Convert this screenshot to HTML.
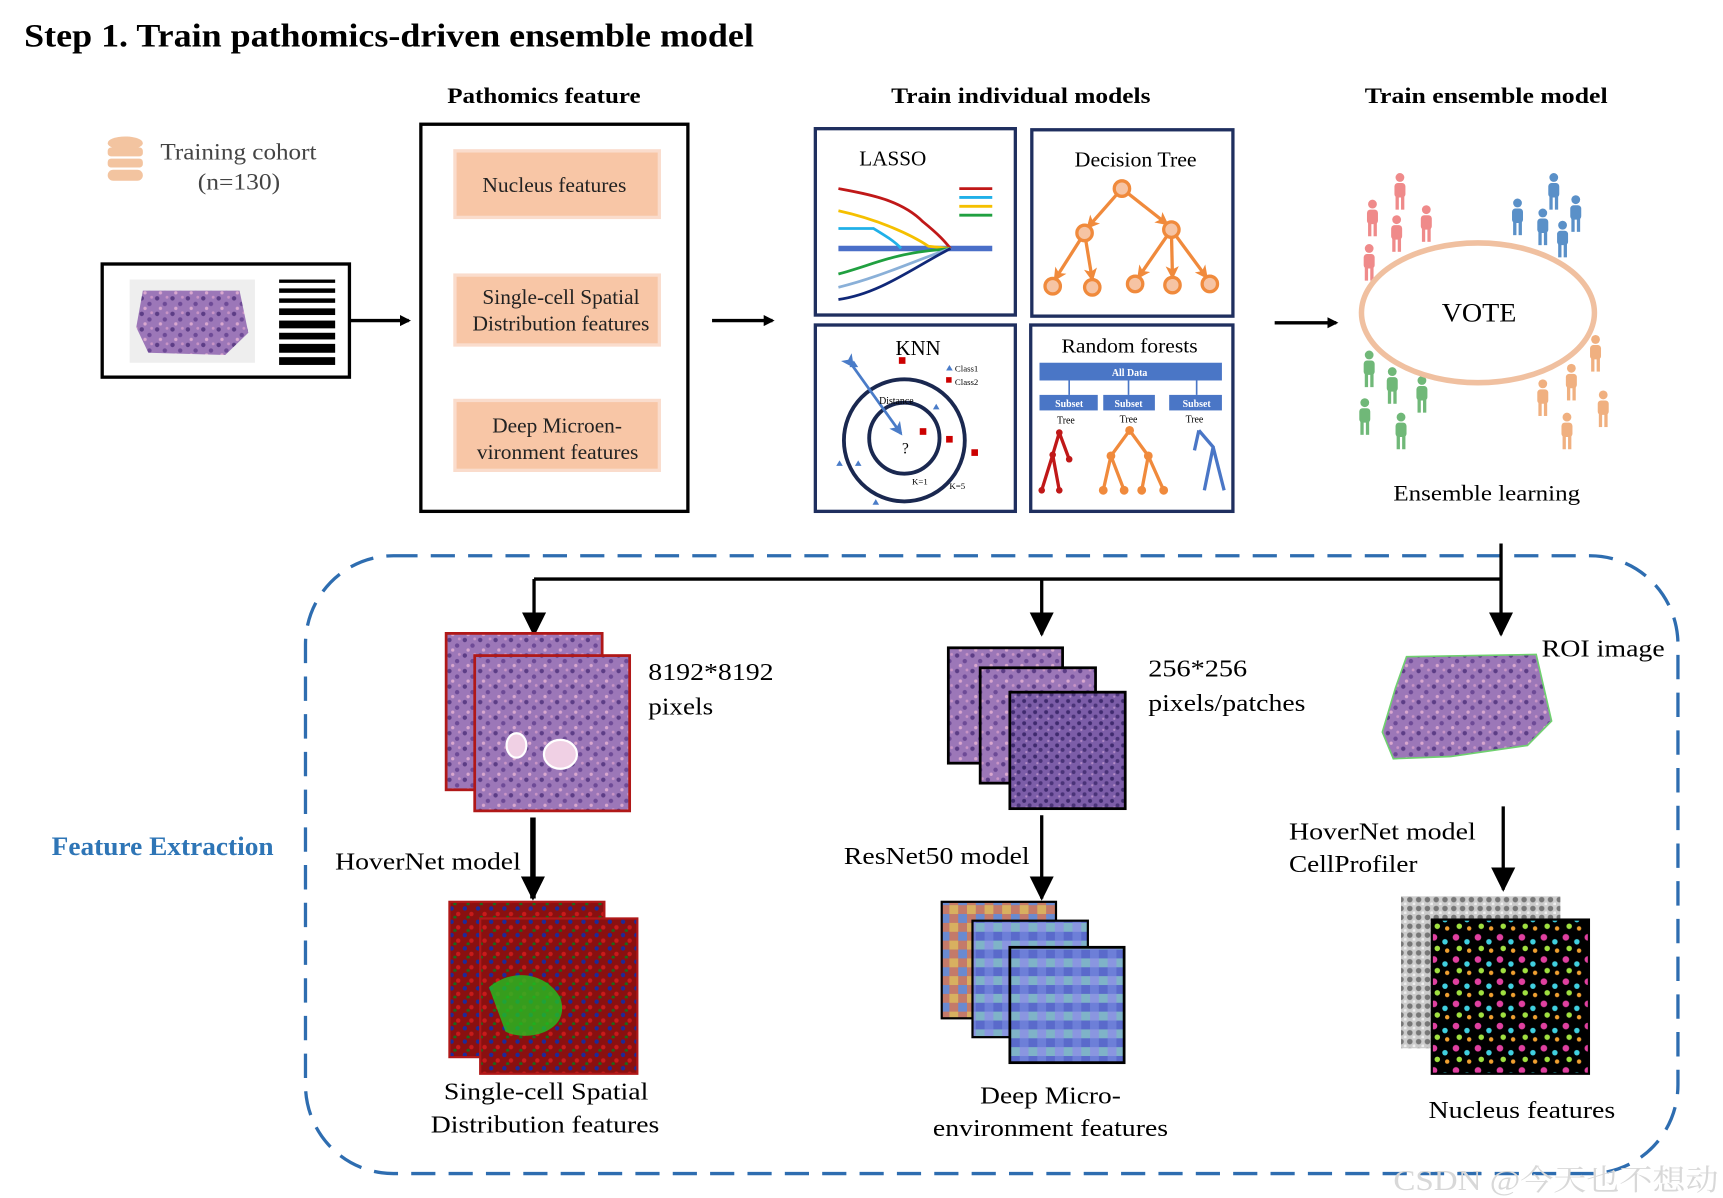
<!DOCTYPE html>
<html><head><meta charset="utf-8"><style>
html,body{margin:0;padding:0;background:#fff;}
svg{display:block;}
text{font-family:"Liberation Serif","Noto Serif CJK SC",serif;}
</style></head><body>
<svg width="1723" height="1198" viewBox="0 0 1568 1080" preserveAspectRatio="none" xmlns="http://www.w3.org/2000/svg">
<defs>
<marker id="ah" markerWidth="10" markerHeight="10" refX="8" refY="5" orient="auto" markerUnits="userSpaceOnUse"><path d="M0,0 L10,5 L0,10 Z" fill="#000"/></marker>
<marker id="ahb" markerWidth="22" markerHeight="22" refX="20" refY="11" orient="auto" markerUnits="userSpaceOnUse"><path d="M0,0 L22,11 L0,22 Z" fill="#000"/></marker>
<marker id="oa" markerWidth="12" markerHeight="12" refX="10" refY="6" orient="auto" markerUnits="userSpaceOnUse"><path d="M0,0 L12,6 L0,12 L3,6 Z" fill="#f08a3c"/></marker>
<marker id="ba" markerWidth="12" markerHeight="12" refX="10" refY="6" orient="auto" markerUnits="userSpaceOnUse"><path d="M0,0 L12,6 L0,12 L3,6 Z" fill="#4a7cc8"/></marker>
<g id="p"><circle cx="0" cy="-12" r="4"/><rect x="-5" y="-7" width="10" height="13" rx="3"/><rect x="-4" y="5" width="3" height="12"/><rect x="1" y="5" width="3" height="12"/></g>
<pattern id="he" width="14" height="14" patternUnits="userSpaceOnUse">
<rect width="14" height="14" fill="#9c77b8"/><circle cx="3" cy="3" r="2" fill="#5c3d86"/><circle cx="10" cy="8" r="2" fill="#6d4a96"/><circle cx="6" cy="12" r="1.5" fill="#d9a8cf"/><circle cx="12" cy="2" r="1.3" fill="#c995c6"/></pattern>
<pattern id="he2" width="10" height="10" patternUnits="userSpaceOnUse">
<rect width="10" height="10" fill="#7c5da8"/><circle cx="2" cy="2" r="1.8" fill="#3f2a6e"/><circle cx="7" cy="6" r="1.8" fill="#4a3378"/><circle cx="4" cy="8" r="1" fill="#b48cc6"/></pattern>
<pattern id="rg" width="12" height="12" patternUnits="userSpaceOnUse">
<rect width="12" height="12" fill="#8a1010"/><circle cx="3" cy="3" r="2" fill="#1c2a9a"/><circle cx="9" cy="8" r="2" fill="#c81a1a"/><circle cx="6" cy="11" r="1.5" fill="#1a6a1a"/></pattern>
<pattern id="hm" width="16" height="16" patternUnits="userSpaceOnUse">
<rect width="16" height="16" fill="#6d7fd8"/><rect width="8" height="8" fill="#8a96e0"/><rect x="8" y="8" width="8" height="8" fill="#5a6acb"/><rect x="8" y="0" width="8" height="8" fill="#7fb3c8"/></pattern>
<pattern id="hm2" width="16" height="16" patternUnits="userSpaceOnUse">
<rect width="16" height="16" fill="#c47a6a"/><rect width="8" height="8" fill="#d8b060"/><rect x="8" y="8" width="8" height="8" fill="#6a8ad0"/></pattern>
<pattern id="nuc" width="20" height="20" patternUnits="userSpaceOnUse">
<rect width="20" height="20" fill="#000"/><circle cx="5" cy="5" r="3" fill="#e040a0"/><circle cx="15" cy="9" r="2.5" fill="#40d0e0"/><circle cx="8" cy="15" r="2.5" fill="#a0e040"/><circle cx="17" cy="17" r="2" fill="#f0a030"/></pattern>
<pattern id="gry" width="8" height="8" patternUnits="userSpaceOnUse"><rect width="8" height="8" fill="#ccc"/><circle cx="3" cy="3" r="2.5" fill="#777"/><circle cx="7" cy="7" r="1.5" fill="#eee"/></pattern>
</defs>

<text x="22" y="42" font-size="30" font-weight="bold" textLength="664" lengthAdjust="spacingAndGlyphs">Step 1. Train pathomics-driven ensemble model</text>
<text x="407" y="93" font-size="20" font-weight="bold" textLength="176" lengthAdjust="spacingAndGlyphs">Pathomics feature</text>
<text x="811" y="93" font-size="20" font-weight="bold" textLength="236" lengthAdjust="spacingAndGlyphs">Train individual models</text>
<text x="1242" y="93" font-size="20" font-weight="bold" textLength="221" lengthAdjust="spacingAndGlyphs">Train  ensemble model</text>

<g fill="#f3c4a0">
<ellipse cx="114" cy="129" rx="16" ry="6"/><rect x="98" y="133" width="32" height="8" rx="3"/><rect x="98" y="143" width="32" height="8" rx="3"/><rect x="98" y="153" width="32" height="10" rx="5"/></g>
<text x="146" y="144" font-size="21" fill="#444" textLength="142" lengthAdjust="spacingAndGlyphs">Training cohort</text>
<text x="180" y="171" font-size="21" fill="#444" textLength="75" lengthAdjust="spacingAndGlyphs">(n=130)</text>

<rect x="93" y="238" width="225" height="102" fill="#fff" stroke="#000" stroke-width="3"/>
<rect x="118" y="252" width="114" height="75" fill="#eee"/>
<path d="M130,262 L218,262 L226,300 L205,320 L135,318 L124,295 Z" fill="url(#he)"/>
<g fill="#000"><rect x="254" y="252" width="51" height="3"/><rect x="254" y="260" width="51" height="4"/><rect x="254" y="269" width="51" height="4"/><rect x="254" y="278" width="51" height="6"/><rect x="254" y="289" width="51" height="7"/><rect x="254" y="300" width="51" height="6"/><rect x="254" y="310" width="51" height="8"/><rect x="254" y="322" width="51" height="7"/></g>
<line x1="319" y1="289" x2="372" y2="289" stroke="#000" stroke-width="3" marker-end="url(#ah)"/>

<rect x="383" y="112" width="243" height="349" fill="#fff" stroke="#000" stroke-width="3"/>
<g fill="#f8c6a6" stroke="#fadccc" stroke-width="3">
<rect x="414" y="136" width="186" height="60"/><rect x="414" y="248" width="186" height="63"/><rect x="414" y="361" width="186" height="63"/></g>
<g font-size="19" fill="#222" lengthAdjust="spacingAndGlyphs">
<text x="439" y="173" textLength="131" lengthAdjust="spacingAndGlyphs">Nucleus features</text>
<text x="439" y="274" textLength="143" lengthAdjust="spacingAndGlyphs">Single-cell Spatial</text><text x="430" y="298" textLength="161" lengthAdjust="spacingAndGlyphs">Distribution features</text>
<text x="448" y="390" textLength="118" lengthAdjust="spacingAndGlyphs">Deep Microen-</text><text x="434" y="414" textLength="147" lengthAdjust="spacingAndGlyphs">vironment features</text></g>
<line x1="648" y1="289" x2="703" y2="289" stroke="#000" stroke-width="3" marker-end="url(#ah)"/>

<g fill="#fff" stroke="#1f2f5f" stroke-width="3">
<rect x="742" y="116" width="182" height="168"/><rect x="939" y="117" width="183" height="168"/>
<rect x="742" y="293" width="182" height="168"/><rect x="938" y="293" width="184" height="168"/></g>
<text x="782" y="149" font-size="19" textLength="61" lengthAdjust="spacingAndGlyphs">LASSO</text>
<g fill="none" stroke-width="2.5">
<line x1="763" y1="224" x2="903" y2="224" stroke="#4a6fc8" stroke-width="5"/>
<path d="M763,170 C790,175 820,180 840,200 C855,212 860,218 865,224" stroke="#c01818"/>
<path d="M763,190 C800,198 830,212 845,222 L865,224" stroke="#f5c000"/>
<path d="M763,206 L795,206 C805,212 815,218 820,224" stroke="#20b0e8"/>
<path d="M763,247 C790,240 810,230 845,226 L865,224" stroke="#20a040"/>
<path d="M763,259 C800,250 830,236 865,224" stroke="#8ab0d8"/>
<path d="M763,270 C800,265 830,242 865,224" stroke="#102878"/>
<line x1="873" y1="170" x2="903" y2="170" stroke="#c01818"/><line x1="873" y1="178" x2="903" y2="178" stroke="#20b0e8"/><line x1="873" y1="186" x2="903" y2="186" stroke="#f5c000"/><line x1="873" y1="194" x2="903" y2="194" stroke="#20a040"/></g>

<text x="978" y="150" font-size="19" textLength="111" lengthAdjust="spacingAndGlyphs">Decision Tree</text>
<g stroke="#f08a3c" stroke-width="3" fill="none">
<line x1="1021" y1="170" x2="990" y2="205" marker-end="url(#oa)"/><line x1="1021" y1="170" x2="1062" y2="202" marker-end="url(#oa)"/>
<line x1="987" y1="210" x2="960" y2="252" marker-end="url(#oa)"/><line x1="987" y1="210" x2="994" y2="252" marker-end="url(#oa)"/>
<line x1="1066" y1="207" x2="1036" y2="250" marker-end="url(#oa)"/><line x1="1066" y1="207" x2="1067" y2="250" marker-end="url(#oa)"/><line x1="1066" y1="207" x2="1098" y2="250" marker-end="url(#oa)"/></g>
<g fill="#f6c4a4" stroke="#f08a3c" stroke-width="3">
<circle cx="1021" cy="170" r="7"/><circle cx="987" cy="210" r="7"/><circle cx="1066" cy="207" r="7"/>
<circle cx="958" cy="258" r="7"/><circle cx="994" cy="259" r="7"/><circle cx="1033" cy="256" r="7"/><circle cx="1067" cy="257" r="7"/><circle cx="1101" cy="256" r="7"/></g>

<text x="815" y="320" font-size="19" textLength="41" lengthAdjust="spacingAndGlyphs">KNN</text>
<g fill="none" stroke="#1a2850" stroke-width="3.5"><circle cx="823" cy="397" r="55"/><circle cx="823" cy="395" r="32"/></g>
<line x1="776" y1="330" x2="820" y2="391" stroke="#4a7cc8" stroke-width="2.5" marker-end="url(#ba)" marker-start="url(#ba)"/>
<text x="800" y="364" font-size="9">Distance</text>
<text x="824" y="409" font-size="14" text-anchor="middle">?</text>
<text x="830" y="437" font-size="8">K=1</text><text x="864" y="441" font-size="8">K=5</text>
<g fill="#c00"><rect x="818" y="322" width="6" height="6"/><rect x="837" y="386" width="6" height="6"/><rect x="861" y="393" width="6" height="6"/><rect x="884" y="405" width="6" height="6"/><rect x="861" y="340" width="5" height="5"/></g>
<g fill="#4a7cc8"><path d="M773,331 l4,-6 l4,6z"/><path d="M849,369 l3,-5 l3,5z"/><path d="M761,420 l3,-5 l3,5z"/><path d="M778,420 l3,-5 l3,5z"/><path d="M794,455 l3,-5 l3,5z"/><path d="M861,334 l3,-5 l3,5z"/></g>
<text x="869" y="335" font-size="8">Class1</text><text x="869" y="347" font-size="8">Class2</text>

<text x="966" y="318" font-size="18" textLength="124" lengthAdjust="spacingAndGlyphs">Random forests</text>
<rect x="946" y="327" width="166" height="16" fill="#4a76c6"/>
<text x="1028" y="339" font-size="9" fill="#fff" font-weight="bold" text-anchor="middle">All Data</text>
<g stroke="#4a76c6" stroke-width="1.5"><line x1="973" y1="343" x2="973" y2="356"/><line x1="1027" y1="343" x2="1027" y2="356"/><line x1="1089" y1="343" x2="1089" y2="356"/></g>
<g fill="#4a76c6"><rect x="946" y="356" width="53" height="14"/><rect x="1004" y="356" width="47" height="14"/><rect x="1064" y="356" width="48" height="14"/></g>
<g font-size="9" fill="#fff" font-weight="bold" text-anchor="middle"><text x="973" y="367">Subset</text><text x="1027" y="367">Subset</text><text x="1089" y="367">Subset</text></g>
<g font-size="9" text-anchor="middle"><text x="970" y="382">Tree</text><text x="1027" y="381">Tree</text><text x="1087" y="381">Tree</text></g>
<g stroke="#c01818" stroke-width="3" fill="none"><path d="M964,390 L958,410 L948,442 M958,410 L964,442 M964,390 L973,414"/></g>
<g fill="#c01818"><circle cx="964" cy="390" r="3"/><circle cx="958" cy="410" r="3"/><circle cx="948" cy="442" r="3"/><circle cx="964" cy="442" r="3"/><circle cx="973" cy="414" r="3"/></g>
<g stroke="#f08a3c" stroke-width="3" fill="none"><path d="M1028,388 L1011,411 L1004,442 M1011,411 L1023,442 M1028,388 L1045,411 L1039,442 M1045,411 L1059,442"/></g>
<g fill="#f08a3c"><circle cx="1028" cy="388" r="4"/><circle cx="1011" cy="411" r="4"/><circle cx="1045" cy="411" r="4"/><circle cx="1004" cy="442" r="4"/><circle cx="1023" cy="442" r="4"/><circle cx="1039" cy="442" r="4"/><circle cx="1059" cy="442" r="4"/></g>
<g stroke="#4a76c6" stroke-width="3" fill="none"><path d="M1091,388 L1104,403 L1096,442 M1104,403 L1114,442 M1091,388 L1087,406"/></g>

<line x1="1160" y1="291" x2="1216" y2="291" stroke="#000" stroke-width="3" marker-end="url(#ah)"/>

<g fill="#ef8a8a"><use href="#p" x="1274" y="172"/><use href="#p" x="1249" y="196"/><use href="#p" x="1298" y="201"/><use href="#p" x="1271" y="210"/><use href="#p" x="1246" y="236"/></g>
<g fill="#5a90c8"><use href="#p" x="1414" y="172"/><use href="#p" x="1381" y="195"/><use href="#p" x="1434" y="192"/><use href="#p" x="1404" y="204"/><use href="#p" x="1422" y="215"/></g>
<g fill="#70b878"><use href="#p" x="1246" y="332"/><use href="#p" x="1267" y="347"/><use href="#p" x="1294" y="355"/><use href="#p" x="1242" y="375"/><use href="#p" x="1275" y="388"/></g>
<g fill="#f0b080"><use href="#p" x="1452" y="318"/><use href="#p" x="1430" y="344"/><use href="#p" x="1404" y="358"/><use href="#p" x="1459" y="368"/><use href="#p" x="1426" y="388"/></g>
<ellipse cx="1345" cy="282" rx="106" ry="63" fill="#fff" stroke="#f0c0a0" stroke-width="5"/>
<text x="1312" y="290" font-size="24" textLength="68" lengthAdjust="spacingAndGlyphs">VOTE</text>
<text x="1268" y="451" font-size="20" textLength="170" lengthAdjust="spacingAndGlyphs">Ensemble learning</text>

<rect x="278" y="501" width="1249" height="557" rx="80" ry="80" fill="none" stroke="#2e6db0" stroke-width="3" stroke-dasharray="22,12"/>
<g stroke="#000" stroke-width="3" fill="none">
<line x1="1366" y1="490" x2="1366" y2="572" marker-end="url(#ahb)"/>
<line x1="486" y1="522" x2="1366" y2="522"/>
<line x1="486" y1="522" x2="486" y2="572" marker-end="url(#ahb)"/>
<line x1="948" y1="522" x2="948" y2="572" marker-end="url(#ahb)"/></g>
<text x="47" y="771" font-size="24" font-weight="bold" fill="#2e75b6" textLength="202" lengthAdjust="spacingAndGlyphs">Feature Extraction</text>

<rect x="406" y="571" width="142" height="141" fill="url(#he)" stroke="#b01818" stroke-width="2.5"/>
<rect x="432" y="591" width="141" height="140" fill="url(#he)" stroke="#b01818" stroke-width="2.5"/>
<ellipse cx="510" cy="680" rx="15" ry="13" fill="#f0d0e4" stroke="#fff" stroke-width="2"/>
<ellipse cx="470" cy="672" rx="9" ry="11" fill="#f0d0e4" stroke="#fff" stroke-width="2"/>
<text x="590" y="613" font-size="22" textLength="114" lengthAdjust="spacingAndGlyphs">8192*8192</text><text x="590" y="644" font-size="22" textLength="59" lengthAdjust="spacingAndGlyphs">pixels</text>
<line x1="485" y1="737" x2="485" y2="810" stroke="#000" stroke-width="5" marker-end="url(#ahb)"/>
<text x="305" y="784" font-size="22" textLength="169" lengthAdjust="spacingAndGlyphs">HoverNet model</text>
<rect x="409" y="813" width="141" height="140" fill="url(#rg)" stroke="#b01818" stroke-width="2"/>
<rect x="437" y="828" width="143" height="140" fill="url(#rg)" stroke="#b01818" stroke-width="2"/>
<path d="M445,890 C470,870 500,880 510,900 C520,930 480,940 460,930 Z" fill="#20c020" opacity="0.8"/>
<text x="404" y="991" font-size="22" textLength="186" lengthAdjust="spacingAndGlyphs">Single-cell Spatial</text>
<text x="392" y="1021" font-size="22" textLength="208" lengthAdjust="spacingAndGlyphs">Distribution features</text>

<rect x="863" y="584" width="104" height="104" fill="url(#he)" stroke="#000" stroke-width="2.5"/>
<rect x="892" y="602" width="105" height="104" fill="url(#he)" stroke="#000" stroke-width="2.5"/>
<rect x="919" y="624" width="105" height="105" fill="url(#he2)" stroke="#000" stroke-width="2.5"/>
<text x="1045" y="610" font-size="22" textLength="90" lengthAdjust="spacingAndGlyphs">256*256</text><text x="1045" y="641" font-size="22" textLength="143" lengthAdjust="spacingAndGlyphs">pixels/patches</text>
<line x1="948" y1="735" x2="948" y2="810" stroke="#000" stroke-width="3" marker-end="url(#ahb)"/>
<text x="768" y="779" font-size="22" textLength="169" lengthAdjust="spacingAndGlyphs">ResNet50 model</text>
<rect x="857" y="813" width="104" height="105" fill="url(#hm2)" stroke="#000" stroke-width="2"/>
<rect x="885" y="830" width="105" height="105" fill="url(#hm)" stroke="#000" stroke-width="2"/>
<rect x="919" y="854" width="104" height="104" fill="url(#hm)" stroke="#000" stroke-width="2.5"/>
<text x="892" y="995" font-size="22" textLength="128" lengthAdjust="spacingAndGlyphs">Deep Micro-</text>
<text x="849" y="1024" font-size="22" textLength="214" lengthAdjust="spacingAndGlyphs">environment features</text>

<path d="M1280,592 L1398,590 L1412,650 L1390,672 L1320,682 L1268,684 L1258,660 L1270,620 Z" fill="url(#he)" stroke="#70d070" stroke-width="1.5"/>
<text x="1403" y="592" font-size="22" textLength="112" lengthAdjust="spacingAndGlyphs">ROI image</text>
<text x="1173" y="757" font-size="22" textLength="170" lengthAdjust="spacingAndGlyphs">HoverNet model</text>
<text x="1173" y="786" font-size="22" textLength="117" lengthAdjust="spacingAndGlyphs">CellProfiler</text>
<line x1="1368" y1="727" x2="1368" y2="802" stroke="#000" stroke-width="3" marker-end="url(#ahb)"/>
<rect x="1275" y="808" width="145" height="137" fill="url(#gry)"/>
<rect x="1303" y="829" width="143" height="139" fill="url(#nuc)" stroke="#000" stroke-width="2"/>
<text x="1300" y="1008" font-size="22" textLength="170" lengthAdjust="spacingAndGlyphs">Nucleus features</text>

<text x="1268" y="1073" font-size="26" fill="#d8d8d8" font-family="Liberation Sans, Noto Sans CJK SC, sans-serif" textLength="296" lengthAdjust="spacingAndGlyphs">CSDN @今天也不想动</text>
</svg>
</body></html>
